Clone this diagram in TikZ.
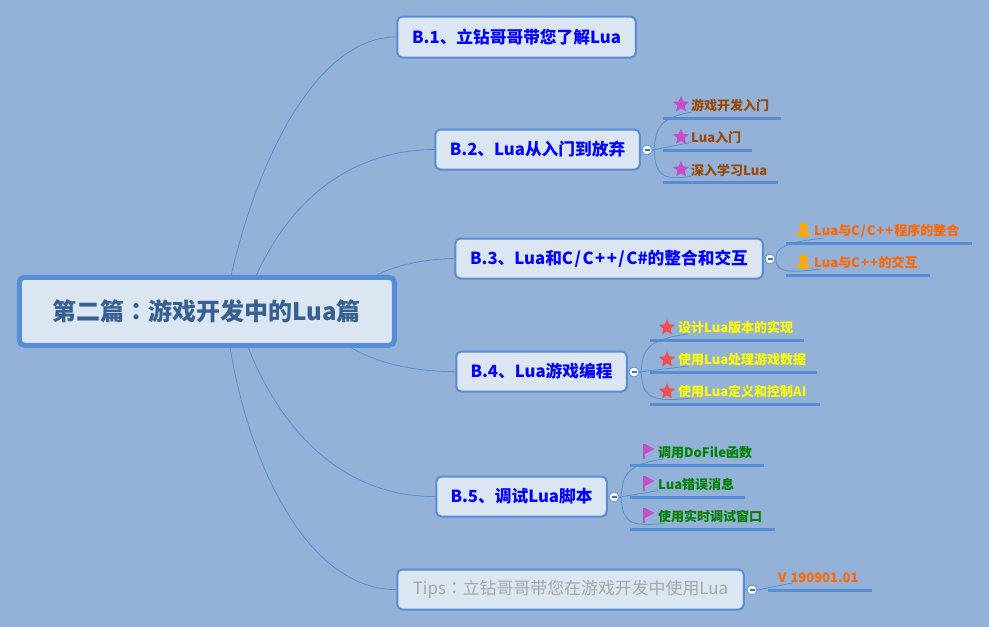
\documentclass[tikz,border=0pt]{standalone}
\usepackage{fontspec}
\setmainfont{Noto Sans CJK SC}
\newfontfamily\tcfont{Noto Sans CJK TC}
\usetikzlibrary{shapes.geometric}
\definecolor{bgc}{HTML}{94B2D7}
\definecolor{fillc}{HTML}{DCE6F2}
\definecolor{linec}{HTML}{558ED5}
\definecolor{brownc}{HTML}{984807}
\definecolor{orangec}{HTML}{FF6600}
\definecolor{yellowc}{HTML}{FFFF00}
\definecolor{greenc}{HTML}{008000}
\definecolor{purplec}{HTML}{C050C8}
\definecolor{redc}{HTML}{F05050}
\definecolor{personc}{HTML}{FFAA00}
\definecolor{rootc}{HTML}{376092}
\definecolor{tipc}{HTML}{A6A6A6}
\tikzset{
 rootbox/.style={draw=linec,fill=fillc,line width=5pt,rounded corners=5pt,inner sep=0pt,align=center,text=rootc,font=\fontsize{24}{28}\selectfont\bfseries},
 topic/.style={draw=linec,fill=fillc,line width=2pt,rounded corners=5pt,inner sep=0pt,align=center,text=blue,font=\fontsize{16.7}{20}\selectfont\bfseries},
 tipbox/.style={topic,text=tipc,font=\fontsize{16.9}{20}\selectfont},
 link/.style={draw=linec,line width=0.8pt},
 under/.style={draw=linec,line width=3pt},
 collapse/.style={circle,draw=linec,fill=white,line width=0.8pt,minimum size=10pt,inner sep=0pt,
  path picture={\draw[linec!80!black,line width=1.2pt]([xshift=2.5pt]path picture bounding box.west)--([xshift=-2.5pt]path picture bounding box.east);}},
 leaf/.style={anchor=base west,inner sep=0pt,font=\fontsize{13}{15}\selectfont\bfseries},
 staricon/.style={star,star points=5,star point ratio=2.2,inner sep=0pt,minimum size=17pt,draw=none},
}
\newcommand{\lowered}[1]{\raisebox{-1pt}{#1}}
% name, x0, x1, yline, textx, textbase, colour, text
\newcommand{\leafitem}[8]{%
 \coordinate (#1a) at (#2,#4);
 \coordinate (#1b) at (#3,#4);
 \draw[under] (#1a) -- (#1b);
 \node[leaf,text=#7] (#1) at (#5,#6+1) {#8};
}
\newcommand{\flagicon}[2]{%
 \fill[purplec] (#1,#2) rectangle ++(2.2,15);
 \fill[purplec] (#1+2,#2) -- (#1+11.5,#2+5) -- (#1+2,#2+10) -- cycle;
}
\newcommand{\personicon}[2]{%
 \fill[personc] (#1,#2) circle (4.5);
 \fill[personc] (#1-2.5,#2+3) -- (#1+2.5,#2+3) -- (#1+3,#2+7) -- (#1-3,#2+7) -- cycle;
 \fill[personc] (#1,#2+7.2) ellipse (7.2 and 2.6);
}
\begin{document}
\begin{tikzpicture}[x=1pt,y=-1pt]
\useasboundingbox (0,0) rectangle (989,627);
\fill[bgc] (0,0) rectangle (989,627);
% anchor points on the central topic
\coordinate (r1) at (231,276);
\coordinate (r2) at (256,276);
\coordinate (r3) at (375,276);
\coordinate (r4) at (350,347);
\coordinate (r5) at (248,347);
\coordinate (r6) at (230,347);
% topics
\node[rootbox,minimum width=375pt,minimum height=68pt] (root) at (206.8,311.3) {第二篇{\tcfont ：}游戏开发中的Lua篇};
\node[topic,minimum width=238.5pt,minimum height=41pt] (b1) at (516.5,37) {\lowered{B.1、立钻哥哥带您了解Lua}};
\node[topic,minimum width=204.5pt,minimum height=40pt] (b2) at (537.5,149.5) {\lowered{B.2、Lua从入门到放弃}};
\node[topic,minimum width=307.5pt,minimum height=40pt] (b3) at (609,258.5) {\lowered{B.3、Lua和C\kern1.5pt/\kern1.5pt C\kern1.5pt+\kern1.5pt+\kern1.5pt/\kern1.5pt C\#的整合和交互}};
\node[topic,minimum width=170.5pt,minimum height=40pt] (b4) at (541.5,371.5) {\lowered{B.4、Lua游戏编程}};
\node[topic,minimum width=170.5pt,minimum height=40pt] (b5) at (521.5,496.5) {\lowered{B.5、调试Lua脚本}};
\node[tipbox,minimum width=346.5pt,minimum height=40pt] (b6) at (570.5,589.5) {\raisebox{-1.5pt}{Tips{\tcfont ：}立钻哥哥带您在游戏开发中使用Lua}};
% central connectors
\draw[link] (r1) .. controls (260,150) and (320,37) .. (b1.west);
\draw[link] (r2) .. controls (295,190) and (360,150) .. (b2.west);
\draw[link] (r3) .. controls (395,265) and (425,259) .. (b3.west);
\draw[link] (r4) .. controls (380,365) and (420,372) .. (b4.west);
\draw[link] (r5) .. controls (285,440) and (350,497) .. (b5.west);
\draw[link] (r6) .. controls (250,470) and (310,590) .. (b6.west);
% collapse marks
\node[collapse] (c2) at (647,150) {};
\node[collapse] (c3) at (770,259) {};
\node[collapse] (c4) at (634,372) {};
\node[collapse] (c5) at (614,497) {};
\node[collapse] (c6) at (752,590) {};
\draw[link] (b2.east) -- (c2);
\draw[link] (b3.east) -- (c3);
\draw[link] (b4.east) -- (c4);
\draw[link] (b5.east) -- (c5);
\draw[link] (b6.east) -- (c6);
% B.2
\leafitem{la}{663}{781}{118}{691}{109.5}{brownc}{游戏开发入门}
\leafitem{lb}{663}{752}{150}{691}{141.5}{brownc}{Lua入门}
\leafitem{lc}{663}{778}{182}{691}{174}{brownc}{深入学习Lua}
\draw[link] (c2.east) -- (654,150) .. controls (656,130) and (657,118) .. (la);
\draw[link] (c2.east) -- (lb);
\draw[link] (c2.east) -- (654,150) .. controls (656,170) and (657,182) .. (lc);
\node[staricon,fill=purplec] (sa) at (681,104.5) {};
\node[staricon,fill=purplec] (sb) at (681,137) {};
\node[staricon,fill=purplec] (sc) at (681,169.5) {};
% B.3
\leafitem{ld}{786}{972}{243}{814}{234.5}{orangec}{Lua与C\kern1pt/\kern1pt C\kern1pt+\kern1pt+\kern1pt程序的整合}
\leafitem{le}{786}{930}{275}{814}{266.5}{orangec}{Lua与C\kern1.2pt+\kern1.2pt+\kern0.6pt的交互}
\draw[link] (c3.east) -- (776,259) .. controls (776,250) and (779,243) .. (ld);
\draw[link] (c3.east) -- (776,259) .. controls (776,268) and (779,275) .. (le);
\personicon{803.5}{227}
\personicon{803.5}{259}
% B.4
\leafitem{lf}{650}{804}{340}{678}{331.5}{yellowc}{设计Lua版本的实现}
\leafitem{lg}{650}{817}{372}{678}{363.5}{yellowc}{使用Lua处理游戏数据}
\leafitem{lh}{650}{820}{404}{678}{395.5}{yellowc}{使用Lua定义和控制AI}
\draw[link] (c4.east) -- (641,372) .. controls (643,352) and (644,340) .. (lf);
\draw[link] (c4.east) -- (lg);
\draw[link] (c4.east) -- (641,372) .. controls (643,392) and (644,404) .. (lh);
\node[staricon,fill=redc] (si) at (667,327.5) {};
\node[staricon,fill=redc] (sj) at (667,359.5) {};
\node[staricon,fill=redc] (sk) at (667,391.5) {};
% B.5
\leafitem{li}{630}{764}{465}{658}{456.5}{greenc}{调用DoFile函数}
\leafitem{lj}{630}{745}{497}{658}{488.5}{greenc}{Lua错误消息}
\leafitem{lk}{630}{775}{529}{658}{520.5}{greenc}{使用实时调试窗口}
\draw[link] (c5.east) -- (621,497) .. controls (623,477) and (624,465) .. (li);
\draw[link] (c5.east) -- (lj);
\draw[link] (c5.east) -- (621,497) .. controls (623,517) and (624,529) .. (lk);
\flagicon{643}{444}
\flagicon{643}{476}
\flagicon{643}{508}
% Tips
\leafitem{ll}{768}{872}{590}{778}{581.5}{orangec}{V\kern1pt{} 190901.01}
\draw[link] (c6.east) -- (ll);
\end{tikzpicture}
\end{document}
